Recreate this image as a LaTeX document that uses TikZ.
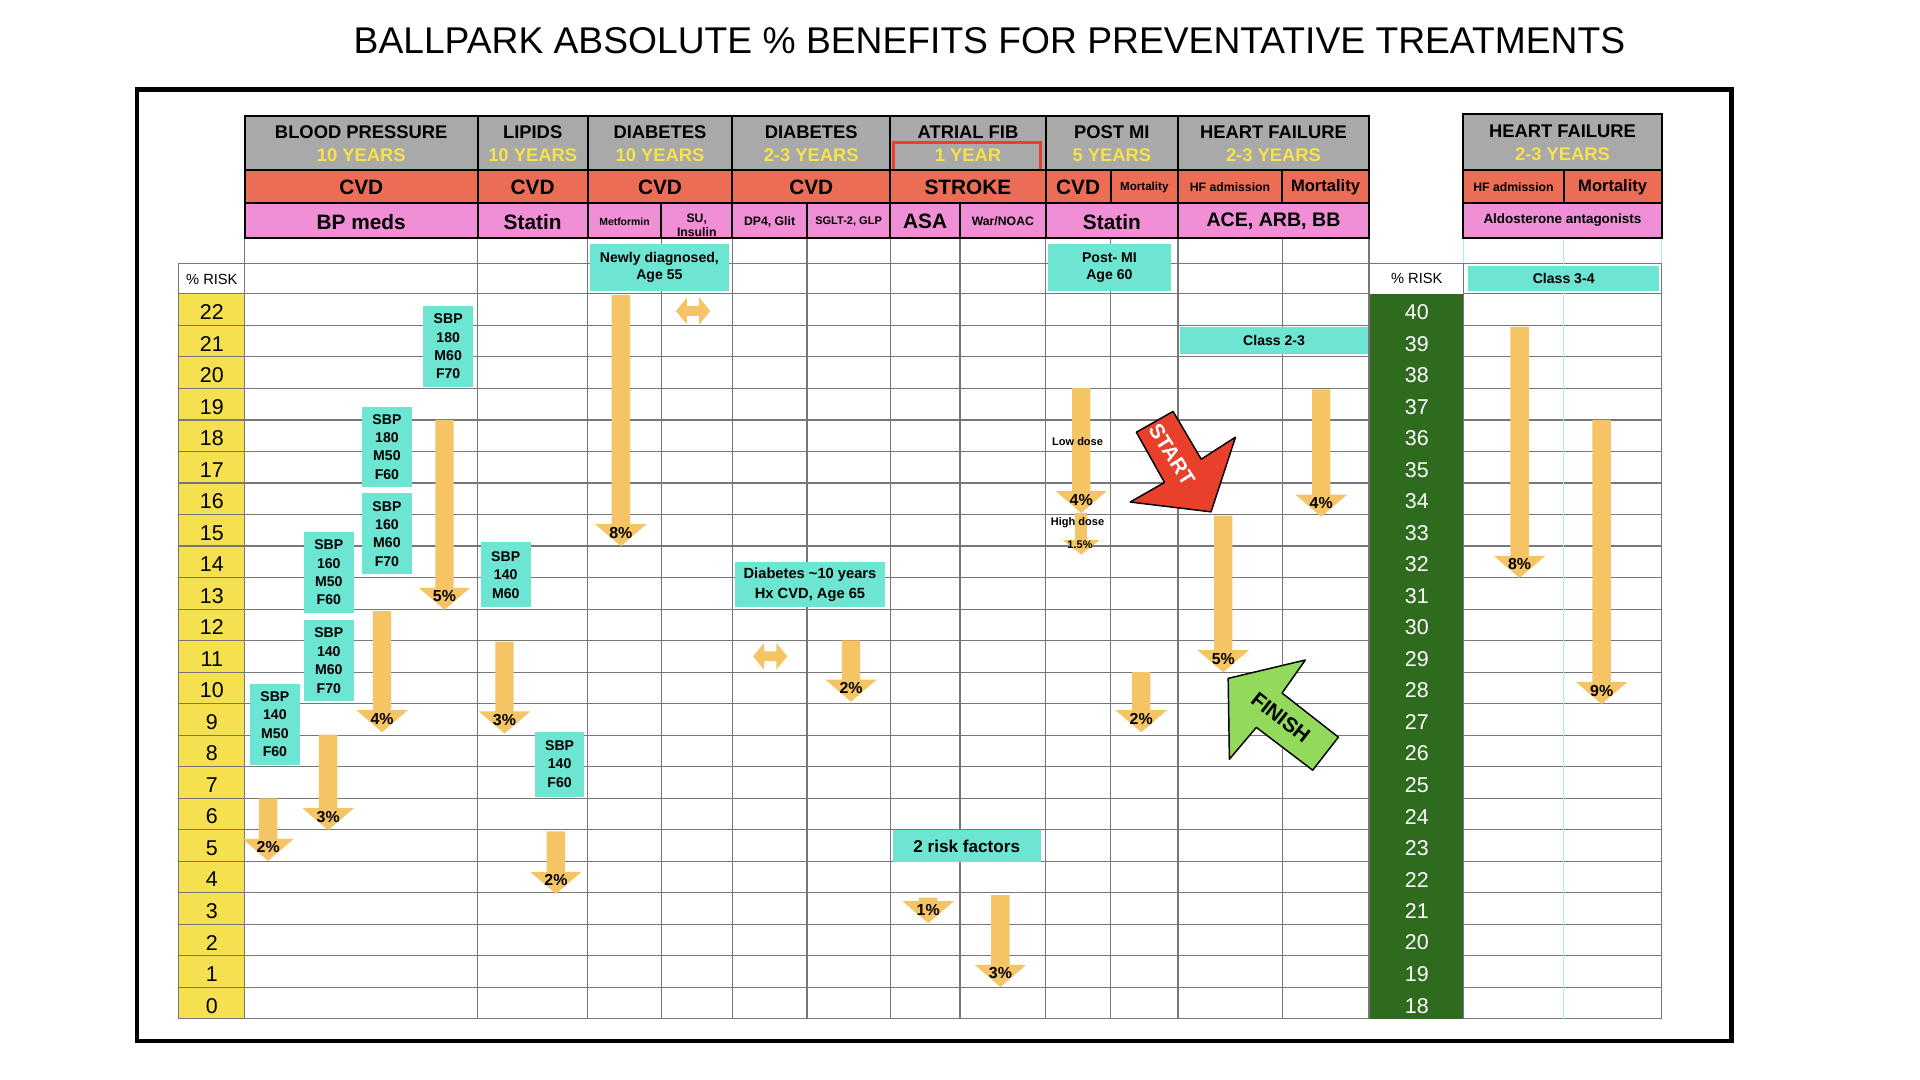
\documentclass[tikz,border=0pt]{standalone}
\usepackage{fontspec}
\setmainfont{Liberation Sans}
\definecolor{hgray}{HTML}{A9A9A9}
\definecolor{hred}{HTML}{EC6D55}
\definecolor{hpink}{HTML}{F08FD6}
\definecolor{hyel}{HTML}{F6E24A}
\definecolor{colyel}{HTML}{F5E04F}
\definecolor{colgreen}{HTML}{2E6B1F}
\definecolor{teal}{HTML}{6CE5D2}
\definecolor{arrc}{HTML}{F5C464}
\definecolor{startred}{HTML}{E8402A}
\definecolor{fingreen}{HTML}{93DA5C}
\definecolor{gridc}{HTML}{777777}
\definecolor{lcyan}{HTML}{A8F0E4}
\tikzset{
  hdr/.style={draw=black,line width=1.6pt},
  grd/.style={draw=gridc,line width=0.9pt},
  tbox/.style={fill=teal,draw=none,font=\bfseries\fontsize{11.5}{14}\selectfont,align=center,inner sep=0pt},
  arr/.style={fill=arrc,draw=none},
  arrlbl/.style={font=\bfseries\fontsize{13}{13}\selectfont,inner sep=0pt},
}
\newcommand\darr[4]{%
  \fill[arr] ({#1-7.5},#2) -- ({#1+7.5},#2) -- ({#1+7.5},{#3-18}) -- ({#1+21},{#3-18}) -- (#1,#3) -- ({#1-21},{#3-18}) -- ({#1-7.5},{#3-18}) -- cycle;
  \node[arrlbl] at (#1,{#3-11}) {#4};}
\newcommand\harr[2]{%
  \fill[arr] ({#1-14},#2) -- ({#1-5},{#2-11}) -- ({#1-5},{#2-4}) -- ({#1+5},{#2-4}) -- ({#1+5},{#2-11}) -- ({#1+14},#2) -- ({#1+5},{#2+11}) -- ({#1+5},{#2+4}) -- ({#1-5},{#2+4}) -- ({#1-5},{#2+11}) -- cycle;}
\begin{document}
\begin{tikzpicture}[x=1pt,y=-1pt]
\useasboundingbox (0,0) rectangle (1568,882);
\fill[white] (0,0) rectangle (1568,882);
\node (title) at (808,33) {\fontsize{30.4}{31}\selectfont BALLPARK ABSOLUTE \% BENEFITS FOR PREVENTATIVE TREATMENTS};
% left yellow column and right green column
\fill[colyel] (146,240) rectangle (200,832);
\fill[colgreen] (1118,240) rectangle (1195,832);
% grid
\foreach \i in {0,...,23} {
  \draw[grd] (146,{240+\i*25.74}) -- (1118,{240+\i*25.74});
  \draw[grd] (1195,{240+\i*25.74}) -- (1357,{240+\i*25.74});
}
\draw[grd] (146,215) -- (1118,215);
\draw[grd] (1118,215) -- (1357,215);
\draw[grd] (1118,215) -- (1118,832);
\draw[grd] (146,215) -- (146,832);
\foreach \x in {200,390,480,540,598,659,727,784,854,907,962,1047,1118}
  \draw[grd] (\x,194) -- (\x,832);
\draw[grd] (1195,215) -- (1195,832);
\foreach \x in {1195,1277,1357} \draw[lcyan,line width=0.9pt] (\x,194) -- (\x,215);
\draw[lcyan,line width=0.9pt] (1277,215) -- (1277,832);
\draw[grd] (1357,215) -- (1357,832);
% row labels
\foreach \i in {0,...,22} {
  \pgfmathtruncatemacro\lv{22-\i}
  \pgfmathtruncatemacro\rv{40-\i}
  \node[font=\fontsize{17.5}{17}\selectfont] at (173,{240+\i*25.74+15}) {\lv};
  \node[font=\fontsize{17.5}{17}\selectfont,text=white] at (1157,{240+\i*25.74+15}) {\rv};
}
\node[font=\fontsize{12}{12}\selectfont] (riskL) at (173,228) {\% RISK};
\node[font=\fontsize{12}{12}\selectfont] (riskR) at (1157,227) {\% RISK};
% headers: gray row
\newcommand\gcell[4]{\filldraw[hdr,fill=hgray] (#1,95) rectangle (#2,139);
  \node[font=\bfseries\fontsize{15}{15}\selectfont] at ({(#1+#2)/2},108) {#3};
  \node[font=\bfseries\fontsize{15}{15}\selectfont,text=hyel] at ({(#1+#2)/2},127) {#4};}
\gcell{200}{390}{BLOOD PRESSURE}{10 YEARS}
\gcell{390}{480}{LIPIDS}{10 YEARS}
\gcell{480}{598}{DIABETES}{10 YEARS}
\gcell{598}{727}{DIABETES}{2-3 YEARS}
\gcell{727}{854}{ATRIAL FIB}{1 YEAR}
\gcell{854}{962}{POST MI}{5 YEARS}
\gcell{962}{1118}{HEART FAILURE}{2-3 YEARS}
\filldraw[hdr,fill=hgray] (1195,93) rectangle (1357,139);
\node[font=\bfseries\fontsize{15}{15}\selectfont] (hfr) at (1276,107) {HEART FAILURE};
\node[font=\bfseries\fontsize{15}{15}\selectfont,text=hyel] (hfry) at (1276,126) {2-3 YEARS};
\draw[startred,line width=2.5pt] (730,116) rectangle (850,139);
% red row
\newcommand\rcell[4]{\filldraw[hdr,fill=hred] (#1,139) rectangle (#2,166);
  \node[font=\bfseries\fontsize{#4}{#4}\selectfont] at ({(#1+#2)/2},153) {#3};}
\rcell{200}{390}{CVD}{17}
\rcell{390}{480}{CVD}{17}
\rcell{480}{598}{CVD}{17}
\rcell{598}{727}{CVD}{17}
\rcell{727}{854}{STROKE}{17}
\rcell{854}{907}{CVD}{17}
\rcell{907}{962}{Mortality}{9.5}
\rcell{962}{1047}{HF admission}{10}
\rcell{1047}{1118}{Mortality}{13.5}
\rcell{1195}{1277}{HF admission}{10}
\rcell{1277}{1357}{Mortality}{13.5}
% pink row
\newcommand\pcell[4]{\filldraw[hdr,fill=hpink] (#1,166) rectangle (#2,194);
  \node[font=\bfseries\fontsize{#4}{#4}\selectfont,align=center] at ({(#1+#2)/2},181) {#3};}
\pcell{200}{390}{BP meds}{17}
\pcell{390}{480}{Statin}{17}
\pcell{480}{540}{Metformin}{8.5}
\filldraw[hdr,fill=hpink] (540,166) rectangle (598,194);
\node[font=\bfseries\fontsize{10}{12}\selectfont,align=center] (su) at (569,184) {SU,\\Insulin};
\pcell{598}{659}{DP4, Glit}{10}
\pcell{659}{727}{SGLT-2, GLP}{9}
\pcell{727}{784}{ASA}{17}
\pcell{784}{854}{War/NOAC}{10}
\pcell{854}{962}{Statin}{17}
\pcell{962}{1118}{ACE, ARB, BB}{16}
\filldraw[hdr,fill=hpink] (1195,166) rectangle (1357,194);
\node[font=\bfseries\fontsize{11}{11}\selectfont] (ald) at (1276,180) {Aldosterone antagonists};
% teal boxes
\node[tbox,minimum width=113,minimum height=39] (nd) at (538.5,218.5) {Newly diagnosed,\\Age 55};
\node[tbox,minimum width=100,minimum height=39] (pmi) at (906,218.5) {Post- MI\\Age 60};
\node[tbox,minimum width=153,minimum height=22] (c23) at (1040.5,278) {Class 2-3};
\node[tbox,minimum width=156,minimum height=21] (c34) at (1277,227.5) {Class 3-4};
\tikzset{sbp/.style={tbox,minimum width=41,minimum height=66,font=\bfseries\fontsize{11.5}{15}\selectfont}}
\node[sbp] (s1) at (366,283) {SBP\\180\\M60\\F70};
\node[sbp] (s2) at (316,365) {SBP\\180\\M50\\F60};
\node[sbp] (s3) at (316,436) {SBP\\160\\M60\\F70};
\node[sbp] (s4) at (268.5,467.5) {SBP\\160\\M50\\F60};
\node[sbp] (s5) at (268.5,539.5) {SBP\\140\\M60\\F70};
\node[sbp] (s6) at (224.5,591.5) {SBP\\140\\M50\\F60};
\node[sbp,minimum height=53] (s7) at (413,469.5) {SBP\\140\\M60};
\node[sbp,minimum height=53,minimum width=40] (s8) at (457,624) {SBP\\140\\F60};
\node[tbox,minimum width=123,minimum height=37,font=\bfseries\fontsize{12}{16}\selectfont] (dm) at (661.5,477.5) {Diabetes \textasciitilde10 years\\Hx CVD, Age 65};
\node[tbox,minimum width=121,minimum height=26,font=\bfseries\fontsize{14}{14}\selectfont] (rf) at (789.5,691) {2 risk factors};
% arrows
\darr{219}{652}{703}{2\%}
\darr{268}{600}{678}{3\%}
\darr{312}{499}{598}{4\%}
\darr{363}{343}{498}{5\%}
\darr{412}{524}{599}{3\%}
\darr{454}{679}{730}{2\%}
\darr{507}{241}{446}{8\%}
\darr{695}{523}{573}{2\%}
\darr{758}{733}{754}{1\%}
\darr{817}{731}{806}{3\%}
\darr{883}{317}{419}{4\%}
\fill[arr] (878,419) rectangle (888,443);
\fill[arr] (868,441) -- (898,441) -- (883,453) -- cycle;
\node[font=\bfseries\fontsize{9}{9}\selectfont] (hd15) at (882,445) {1.5\%};
\node[font=\bfseries\fontsize{9}{9}\selectfont] (ld) at (880,361) {Low dose};
\node[font=\bfseries\fontsize{9}{9}\selectfont] (hd) at (880,427) {High dose};
\darr{932}{549}{598}{2\%}
\darr{999}{421}{549}{5\%}
\darr{1079}{318}{422}{4\%}
\darr{1241}{267}{472}{8\%}
\darr{1308}{343}{575}{9\%}
\harr{566}{254}
\harr{629}{536}
% START / FINISH
\filldraw[fill=startred,draw=black,line width=1.2pt,line join=round] (928,353) -- (958,336) -- (981,375) -- (1009,357) -- (989,418) -- (923,410) -- (951,394) -- cycle;
\node[rotate=-58,text=white,font=\bfseries\fontsize{17}{17}\selectfont] (start) at (957,371) {START};
\filldraw[fill=fingreen,draw=black,line width=1.2pt,line join=round] (1003,554) -- (1066,539) -- (1047,566) -- (1093,602) -- (1072,629) -- (1026,594) -- (1004,620) -- cycle;
\node[rotate=-38,font=\bfseries\fontsize{17}{17}\selectfont] (finish) at (1046,586) {FINISH};
% frame
\draw[black,line width=3.5pt] (112,73) rectangle (1414,850);
\end{tikzpicture}
\end{document}
